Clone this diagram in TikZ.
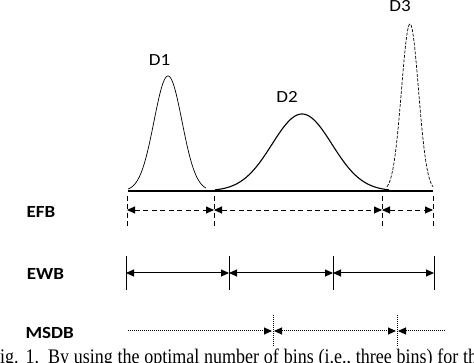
\documentclass[tikz,border=0pt]{standalone}
\usepackage{graphicx}
\usepackage{fontspec}
\setmainfont{Liberation Serif}
\newfontfamily\calfont{Carlito}
\usetikzlibrary{arrows.meta}
\newcommand{\wide}[1]{\scalebox{1.12}[1]{#1}}
\tikzset{
  rowlbl/.style={font=\calfont\bfseries\fontsize{17}{18}\selectfont, inner sep=0pt},
  dlbl/.style={font=\calfont\fontsize{17}{18}\selectfont, inner sep=0pt},
  efbline/.style={line width=0.9pt, dash pattern=on 5pt off 3.5pt},
  efbarrow/.style={line width=0.9pt, dash pattern=on 5pt off 3.5pt, {Triangle[length=8pt,width=7pt]}-{Triangle[length=8pt,width=7pt]}},
  ewbline/.style={line width=1pt},
  ewbarrow/.style={line width=1pt, {Triangle[length=8pt,width=7pt]}-{Triangle[length=8pt,width=7pt]}},
  msdbline/.style={line width=1pt, dash pattern=on 1pt off 1pt},
}
\begin{document}
\begin{tikzpicture}[x=1pt,y=-1pt]
\clip (0,0) rectangle (474,363);
\fill[white] (0,0) rectangle (474,363);

% distributions
\draw[line width=0.7pt] plot[domain=128:206, samples=90, smooth] (\x, {191-115*exp(-((\x-168)^2)/392)});
\draw[line width=1.1pt] plot[domain=215:389, samples=120, smooth] (\x, {191-77*exp(-((\x-302)^2)/1800)});
\draw[line width=0.7pt, dash pattern=on 3pt off 1.5pt] plot[domain=387:433, samples=90, smooth] (\x, {191-167*exp(-((\x-410)^2)/144.5)});

% baseline
\coordinate (b0) at (128,191);
\coordinate (b1) at (433,191);
\draw[line width=2pt] (b0) -- (b1);

\node[dlbl] (d1) at (159.5,60.5) {\wide{D1}};
\node[dlbl] (d2) at (287,97) {\wide{D2}};
\node[dlbl] (d3) at (400,6) {\wide{D3}};

% EFB
\node[rowlbl] (efb) at (41,212.2) {\wide{EFB}};
\foreach \n/\xx in {0/127,1/214,2/382,3/433}{
  \coordinate (et\n) at (\xx,196);
  \coordinate (eb\n) at (\xx,228);
  \coordinate (e\n) at (\xx,210);
}
\draw[efbline] (et0) -- (eb0);
\draw[efbline] (et1) -- (eb1);
\draw[efbline] (et2) -- (eb2);
\draw[efbline] (et3) -- (eb3);
\draw[efbarrow] (e0) -- (e1);
\draw[efbarrow] (e1) -- (e2);
\draw[efbarrow] (e2) -- (e3);

% EWB
\node[rowlbl] (ewb) at (45.5,274) {\wide{EWB}};
\foreach \n/\xx in {0/126,1/229,2/333,3/434}{
  \coordinate (wt\n) at (\xx,256);
  \coordinate (wb\n) at (\xx,290);
  \coordinate (w\n) at (\xx,273);
}
\draw[ewbline] (wt0) -- (wb0);
\draw[ewbline] (wt1) -- (wb1);
\draw[ewbline] (wt2) -- (wb2);
\draw[ewbline] (wt3) -- (wb3);
\draw[ewbarrow] (w0) -- (w1);
\draw[ewbarrow] (w1) -- (w2);
\draw[ewbarrow] (w2) -- (w3);

% MSDB
\node[rowlbl] (msdb) at (49.7,332.8) {\wide{MSDB}};
\coordinate (m0) at (128,331);
\coordinate (m1) at (273,331);
\coordinate (m2) at (397,331);
\coordinate (m3) at (445,331);
\coordinate (mt1) at (273,315);
\coordinate (mb1) at (273,347);
\coordinate (mt2) at (397,315);
\coordinate (mb2) at (397,347);
\draw[msdbline] (mt1) -- (mb1);
\draw[msdbline] (mt2) -- (mb2);
\draw[msdbline, -{Triangle[length=8pt,width=7pt]}] (m0) -- ([xshift=-1pt]m1);
\draw[msdbline, {Triangle[length=8pt,width=7pt]}-{Triangle[length=8pt,width=7pt]}] ([xshift=1pt]m1) -- ([xshift=-1pt]m2);
\draw[msdbline, {Triangle[length=8pt,width=7pt]}-] ([xshift=1pt]m2) -- (m3);

% caption
\node[anchor=base west, inner sep=0pt, font=\fontsize{18}{18}\selectfont] (cap) at (-10,363)
  {\scalebox{1}[1.15]{\makebox[478pt][s]{Fig. 1.\hspace{9pt}By using the optimal number of bins (i.e., three bins) for t}h}};
\end{tikzpicture}
\end{document}
